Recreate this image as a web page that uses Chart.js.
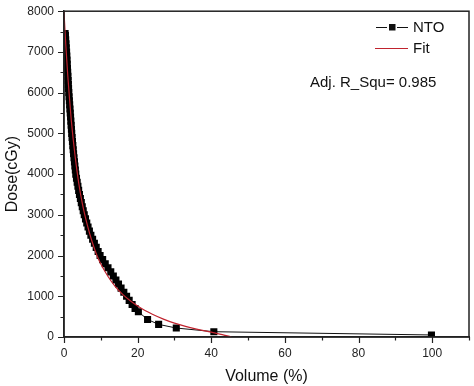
<!DOCTYPE html>
<html>
<head>
<meta charset="utf-8">
<script src="https://cdn.jsdelivr.net/npm/chart.js@4/dist/chart.umd.min.js"></script>
<style>
  html, body { margin: 0; padding: 0; background: #fff; }
  #wrap { width: 474px; height: 386px; position: relative; }
</style>
</head>
<body>
<div id="wrap"><canvas id="c" width="474" height="386"></canvas></div>
<script>
// NTO data (Volume %, Dose cGy)
const volumeNTO = [0.30,0.38,0.46,0.54,0.62,0.70,0.76,0.82,0.88,0.94,1.00,1.06,1.12,1.18,1.24,1.30,1.38,1.46,1.54,1.62,1.70,1.78,1.86,1.94,2.02,2.10,2.20,2.30,2.40,2.50,2.60,2.72,2.84,2.96,3.08,3.20,3.39,3.58,3.78,3.98,4.20,4.45,4.70,4.96,5.22,5.50,5.84,6.18,6.53,6.90,7.30,7.77,8.25,8.75,9.27,9.80,10.5,11.2,11.95,12.7,13.4,14.1,14.8,15.5,16.25,17.0,17.7,18.5,19.3,20.2,22.7,25.7,30.5,40.7,99.8];
const doseNTO   = [7450,7400,7300,7200,7100,7000,6900,6800,6700,6600,6500,6400,6300,6200,6100,6000,5900,5800,5700,5600,5500,5400,5300,5200,5100,5000,4900,4800,4700,4600,4500,4400,4300,4200,4100,4000,3900,3800,3700,3600,3500,3400,3300,3200,3100,3000,2900,2800,2700,2600,2500,2400,2300,2200,2100,2000,1900,1800,1700,1600,1500,1400,1300,1200,1100,1000,900,800,700,620,430,310,220,130,50];
// Fit curve
const volumeFit = [0,0.5,1,1.5,2,3,4,5,6,7,8,9,10,12,14,16,18,20,22,24,27,30,33,36,40,43,45.5];
const doseFit   = [7980,7150,6450,5850,5300,4450,3780,3270,2870,2530,2240,1990,1790,1480,1230,1040,890,760,650,560,440,340,260,195,120,60,0];
// Axis ticks
const xTickLabels = [0,20,40,60,80,100];
const yTickLabels = [0,1000,2000,3000,4000,5000,6000,7000,8000];
const legendLabels = ['NTO','Fit'];
const annotationText = 'Adj. R_Squ= 0.985';

const FONT = '"Liberation Sans", Arial, sans-serif';
const AXIS = '#222';

const toPts = (xs, ys) => xs.map((x, i) => ({ x: x, y: ys[i] }));

const framePlugin = {
  id: 'frame',
  afterDraw(chart) {
    const { ctx, chartArea: a, scales } = chart;
    ctx.save();
    ctx.strokeStyle = AXIS;
    ctx.lineWidth = 1.5;
    ctx.strokeRect(a.left, a.top, a.right - a.left, a.bottom - a.top);
    // ticks
    ctx.lineWidth = 1.2;
    ctx.beginPath();
    for (let v = 0; v <= 8000; v += 500) {
      const y = Math.round(scales.y.getPixelForValue(v)) + 0.5;
      const len = (v % 1000 === 0) ? 6 : 3.5;
      ctx.moveTo(a.left - len, y); ctx.lineTo(a.left, y);
    }
    for (let v = 0; v <= 110; v += 10) {
      const x = Math.round(scales.x.getPixelForValue(v)) + 0.5;
      const len = (v % 20 === 0) ? 6 : 3.5;
      ctx.moveTo(x, a.bottom); ctx.lineTo(x, a.bottom + len);
    }
    ctx.stroke();
    // legend
    ctx.font = '15px ' + FONT;
    ctx.fillStyle = '#111';
    ctx.textBaseline = 'middle';
    ctx.textAlign = 'left';
    const y1 = 27, y2 = 48;
    ctx.strokeStyle = '#111';
    ctx.lineWidth = 1.2;
    ctx.beginPath();
    ctx.moveTo(376, y1 + 0.5); ctx.lineTo(387, y1 + 0.5);
    ctx.moveTo(397, y1 + 0.5); ctx.lineTo(408, y1 + 0.5);
    ctx.stroke();
    ctx.fillRect(389, y1 - 3, 6.5, 6.5);
    ctx.fillText(legendLabels[0], 413, y1 + 1);
    ctx.strokeStyle = '#c0232e';
    ctx.beginPath();
    ctx.moveTo(375, y2 + 0.5); ctx.lineTo(408, y2 + 0.5);
    ctx.stroke();
    ctx.fillText(legendLabels[1], 413, y2 + 1);
    ctx.fillText(annotationText, 310, 83);
    ctx.restore();
  }
};

new Chart(document.getElementById('c'), {
  type: 'scatter',
  data: {
    datasets: [
      {
        label: legendLabels[0],
        data: toPts(volumeNTO, doseNTO),
        showLine: true,
        borderColor: '#111',
        borderWidth: 1,
        backgroundColor: '#000',
        pointStyle: 'rect',
        pointRadius: 5,
        pointBorderWidth: 0,
        pointHoverRadius: 5,
        order: 2
      },
      {
        label: legendLabels[1],
        data: toPts(volumeFit, doseFit),
        showLine: true,
        borderColor: '#c0232e',
        borderWidth: 1.2,
        pointRadius: 0,
        cubicInterpolationMode: 'monotone',
        order: 1
      }
    ]
  },
  options: {
    responsive: false,
    animation: false,
    devicePixelRatio: 1,
    layout: { padding: { top: 5, right: 4, left: 0, bottom: 0 } },
    plugins: { legend: { display: false }, tooltip: { enabled: false } },
    scales: {
      x: {
        type: 'linear',
        min: 0, max: 110,
        afterBuildTicks(scale) { scale.ticks = xTickLabels.map(v => ({ value: v })); },
        afterFit(scale) { scale.height = 49; },
        ticks: {
          font: { family: FONT, size: 12 },
          color: '#222',
          padding: 3,
          maxRotation: 0,
          autoSkip: false,
          callback: v => String(v)
        },
        grid: { display: true, drawOnChartArea: false, drawTicks: true, tickLength: 6, tickColor: 'rgba(0,0,0,0)' },
        border: { display: true, color: AXIS, width: 1.5 },
        title: {
          display: true,
          text: 'Volume (%)',
          font: { family: FONT, size: 16 },
          color: '#111',
          padding: { top: 4, bottom: 0 }
        }
      },
      y: {
        type: 'linear',
        min: 0, max: 8000,
        afterBuildTicks(scale) { scale.ticks = yTickLabels.map(v => ({ value: v })); },
        afterFit(scale) { scale.width = 64; },
        ticks: {
          font: { family: FONT, size: 12 },
          color: '#222',
          padding: 4,
          autoSkip: false,
          callback: v => String(v)
        },
        grid: { display: true, drawOnChartArea: false, drawTicks: true, tickLength: 6, tickColor: 'rgba(0,0,0,0)' },
        border: { display: true, color: AXIS, width: 1.5 },
        title: {
          display: true,
          text: 'Dose(cGy)',
          font: { family: FONT, size: 16 },
          color: '#111',
          padding: { top: 3, bottom: 2 }
        }
      }
    }
  },
  plugins: [framePlugin]
});
</script>
</body>
</html>
